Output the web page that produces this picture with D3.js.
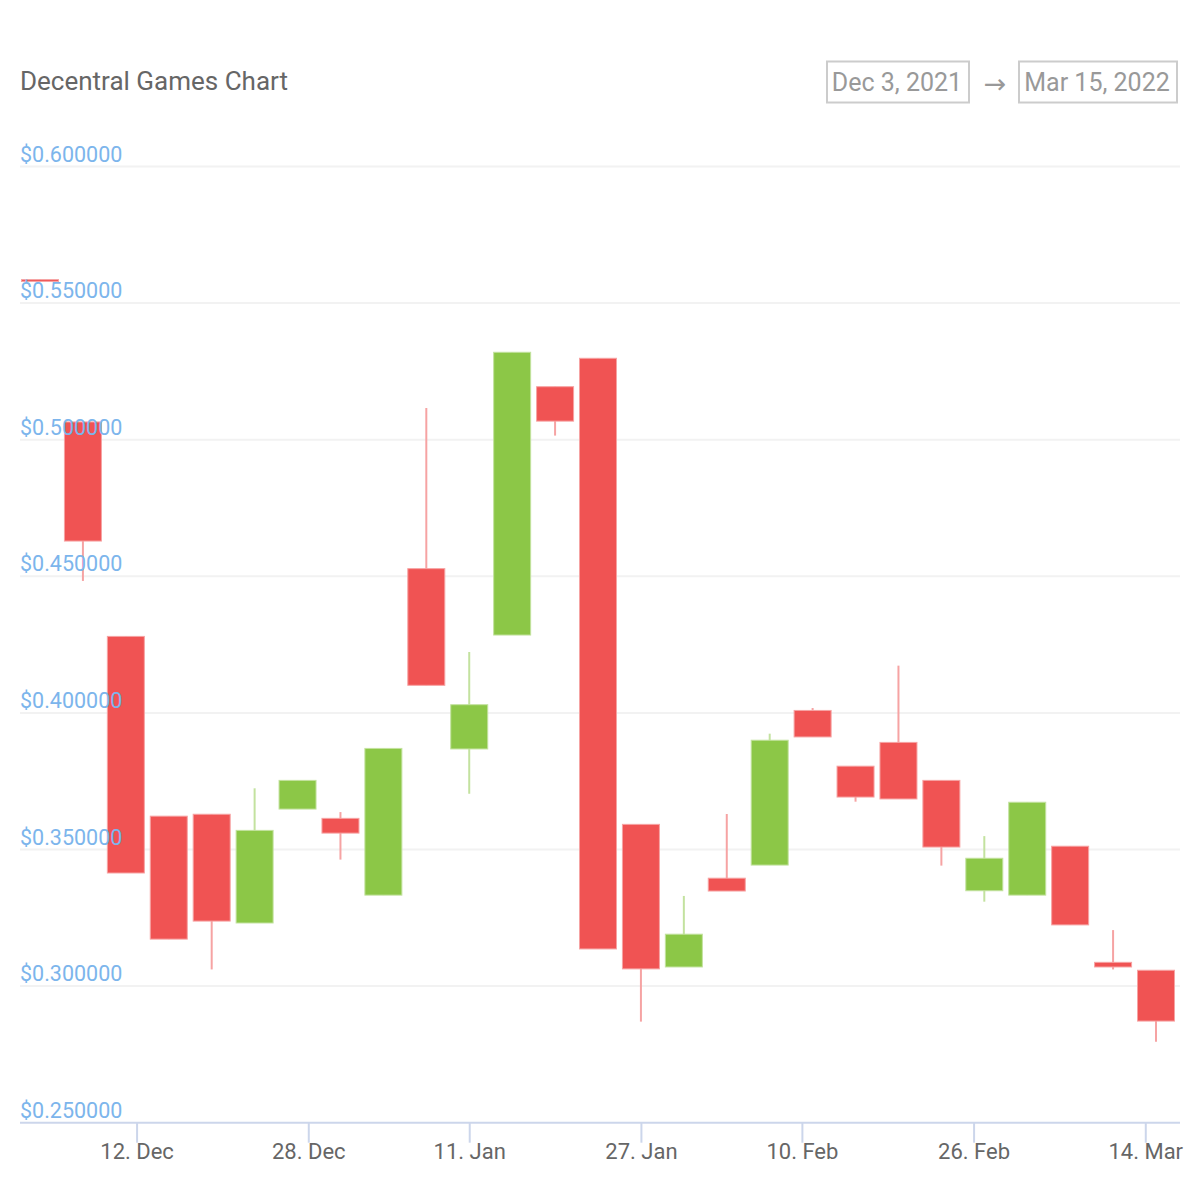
<!DOCTYPE html>
<html>
<head>
<meta charset="utf-8">
<script src="https://cdn.jsdelivr.net/npm/d3@7"></script>
<style>
  html, body { margin: 0; padding: 0; background: #fff; }
  svg { display: block; font-family: Roboto, "Noto Sans", sans-serif; }
</style>
</head>
<body>
<svg id="chart"></svg>
<script>
// candle dates (ordinal axis, one per candle)
const dates = [
  "2021-12-03", "2021-12-07", "2021-12-11", "2021-12-15", "2021-12-19", "2021-12-23",
  "2021-12-27", "2021-12-31", "2022-01-03", "2022-01-07", "2022-01-11", "2022-01-15",
  "2022-01-19", "2022-01-23", "2022-01-27", "2022-01-31", "2022-02-03", "2022-02-07",
  "2022-02-11", "2022-02-15", "2022-02-19", "2022-02-23", "2022-02-27", "2022-03-03",
  "2022-03-07", "2022-03-11", "2022-03-15"
];
const open  = [0.5586, 0.5065, 0.4280, 0.3622, 0.3629, 0.3231, 0.3648, 0.3614, 0.3333, 0.4528,
               0.3868, 0.4285, 0.5194, 0.5298, 0.3592, 0.3070, 0.3395, 0.3443, 0.4009, 0.3805,
               0.3892, 0.3753, 0.3349, 0.3333, 0.3512, 0.3087, 0.3058];
const high  = [0.5586, 0.5065, 0.4280, 0.3622, 0.3629, 0.3724, 0.3753, 0.3637, 0.3870, 0.5116,
               0.4223, 0.5320, 0.5194, 0.5298, 0.3592, 0.3330, 0.3630, 0.3924, 0.4018, 0.3805,
               0.4173, 0.3753, 0.3549, 0.3673, 0.3512, 0.3205, 0.3058];
const low   = [0.5579, 0.4483, 0.3414, 0.3172, 0.3061, 0.3231, 0.3648, 0.3463, 0.3333, 0.4101,
               0.3704, 0.4285, 0.5015, 0.3136, 0.2870, 0.3070, 0.3348, 0.3443, 0.3912, 0.3675,
               0.3685, 0.3441, 0.3309, 0.3333, 0.3224, 0.3061, 0.2796];
const close = [0.5579, 0.4629, 0.3414, 0.3172, 0.3238, 0.3570, 0.3753, 0.3560, 0.3870, 0.4101,
               0.4030, 0.5320, 0.5068, 0.3136, 0.3063, 0.3190, 0.3348, 0.3900, 0.3912, 0.3692,
               0.3685, 0.3509, 0.3468, 0.3673, 0.3224, 0.3070, 0.2872];

const yTicks = [0.25, 0.30, 0.35, 0.40, 0.45, 0.50, 0.55, 0.60];
const xTicks = ["2021-12-12", "2021-12-28", "2022-01-11", "2022-01-27", "2022-02-10", "2022-02-26", "2022-03-14"];

const title = "Decentral Games Chart";
const rangeFrom = "Dec 3, 2021";
const rangeTo = "Mar 15, 2022";

const width = 1200, height = 1200;
const plotLeft = 20, plotRight = 1180;
const upColor = "#8cc747", downColor = "#f05353";
const upLine = "#c3e29f", downLine = "#f6a3a3";

const parse = d3.utcParse("%Y-%m-%d");
const candleDates = dates.map(parse);

const svg = d3.select("#chart")
  .attr("width", width)
  .attr("height", height);

svg.append("rect")
  .attr("width", width)
  .attr("height", height)
  .attr("fill", "#fff");

// ordinal placement: candles evenly spaced, dates in between interpolated
const xIndex = d3.scalePoint()
  .domain(d3.range(dates.length))
  .range([40, 1156]);

const x = d3.scaleUtc()
  .domain(candleDates)
  .range(candleDates.map((d, i) => xIndex(i)));

const y = d3.scaleLinear()
  .domain([0.25, 0.60])
  .range([1122.7, 166.5]);

//Title
svg.append("text")
  .attr("x", 20)
  .attr("y", 90)
  .attr("fill", "#666")
  .style("font-size", "26px")
  .text(title);

//Date range boxes
const rangeG = svg.append("g")
  .style("font-size", "25px")
  .attr("fill", "#999");

rangeG.append("rect")
  .attr("x", 827).attr("y", 61.5)
  .attr("width", 142).attr("height", 41)
  .attr("fill", "none").attr("stroke", "#ccc").attr("stroke-width", 2);
rangeG.append("text")
  .attr("x", 897).attr("y", 91)
  .attr("text-anchor", "middle")
  .text(rangeFrom);

rangeG.append("text")
  .attr("x", 995).attr("y", 93)
  .attr("text-anchor", "middle")
  .style("font-family", "'DejaVu Sans', sans-serif")
  .style("font-size", "27px")
  .text("\u2192");

rangeG.append("rect")
  .attr("x", 1019).attr("y", 61.5)
  .attr("width", 158).attr("height", 41)
  .attr("fill", "none").attr("stroke", "#ccc").attr("stroke-width", 2);
rangeG.append("text")
  .attr("x", 1097).attr("y", 91)
  .attr("text-anchor", "middle")
  .text(rangeTo);

//Grid lines
svg.append("g")
  .selectAll("line")
  .data(yTicks.slice(1))
  .enter()
    .append("line")
    .attr("x1", plotLeft)
    .attr("x2", plotRight)
    .attr("y1", d => y(d))
    .attr("y2", d => y(d))
    .attr("stroke", "#f2f2f2")
    .attr("stroke-width", 2);

// x axis
const xAxis = d3.axisBottom(x)
  .tickValues(xTicks.map(parse))
  .tickFormat(d3.utcFormat("%-d. %b"))
  .tickSize(20)
  .tickSizeOuter(0)
  .tickPadding(1);

const xg = svg.append("g")
  .attr("transform", `translate(0, ${y(0.25)})`)
  .call(xAxis);

xg.select(".domain").remove();
xg.selectAll(".tick line")
  .attr("stroke", "#ccd6eb")
  .attr("stroke-width", 2);
xg.selectAll(".tick text")
  .attr("fill", "#666")
  .style("font-size", "22px")
  .style("font-family", "Roboto, sans-serif");

xg.append("line")
  .attr("x1", plotLeft)
  .attr("x2", plotRight)
  .attr("stroke", "#ccd6eb")
  .attr("stroke-width", 2);

//Candles
const candles = dates.map((d, i) => ({
  date: candleDates[i], open: open[i], high: high[i], low: low[i], close: close[i]
}));
const bodyW = 37;

const cg = svg.append("g")
  .selectAll("g")
  .data(candles)
  .enter()
    .append("g");

cg.append("line")
  .attr("x1", d => x(d.date))
  .attr("x2", d => x(d.date))
  .attr("y1", d => y(d.high))
  .attr("y2", d => y(d.low))
  .attr("stroke", d => d.close >= d.open ? upLine : downLine)
  .attr("stroke-width", 2);

cg.append("rect")
  .attr("x", d => x(d.date) - bodyW / 2)
  .attr("width", bodyW)
  .attr("y", d => y(Math.max(d.open, d.close)))
  .attr("height", d => Math.max(1, Math.abs(y(d.open) - y(d.close))))
  .attr("fill", d => d.close >= d.open ? upColor : downColor)
  .attr("stroke", d => d.close >= d.open ? upLine : downLine)
  .attr("stroke-width", 1);

//Y labels, drawn over the candles
svg.append("g")
  .selectAll("text")
  .data(yTicks)
  .enter()
    .append("text")
    .attr("x", 20)
    .attr("y", d => y(d) - 5)
    .attr("fill", "#7cb5ec")
    .style("font-size", "21.5px")
    .text(d => "$" + d.toFixed(6));
</script>
</body>
</html>
